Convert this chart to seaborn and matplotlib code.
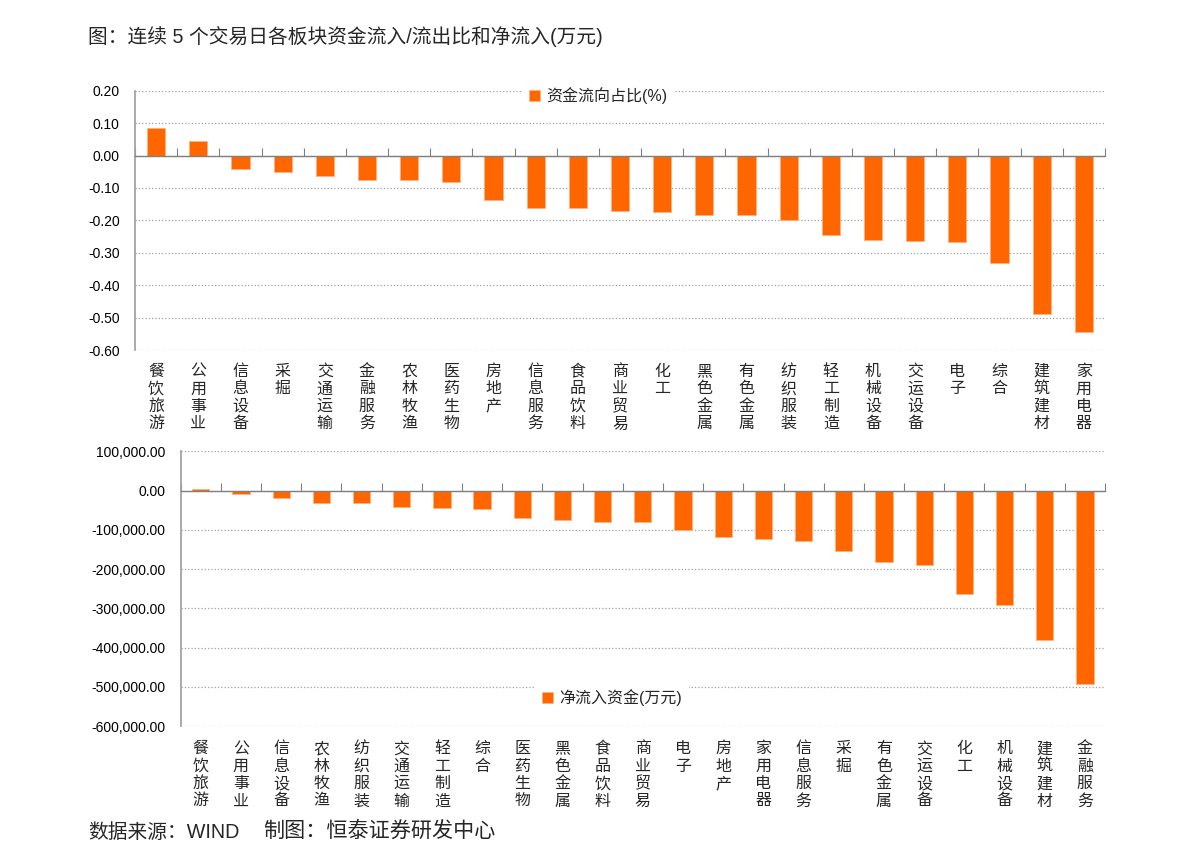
import numpy as np
import pandas as pd
import seaborn as sns
import matplotlib.pyplot as plt
from matplotlib.ticker import FuncFormatter

# 资金流向占比(%) —— 按占比从高到低
ratio_sectors = ['餐饮旅游', '公用事业', '信息设备', '采掘', '交通运输', '金融服务', '农林牧渔',
                 '医药生物', '房地产', '信息服务', '食品饮料', '商业贸易', '化工', '黑色金属',
                 '有色金属', '纺织服装', '轻工制造', '机械设备', '交运设备', '电子', '综合',
                 '建筑建材', '家用电器']
ratio_values = [0.085, 0.046, -0.043, -0.051, -0.062, -0.075, -0.077,
                -0.083, -0.137, -0.162, -0.162, -0.171, -0.173, -0.183,
                -0.185, -0.200, -0.246, -0.260, -0.263, -0.268, -0.331,
                -0.490, -0.543]

# 净流入资金(万元)
net_sectors = ['餐饮旅游', '公用事业', '信息设备', '农林牧渔', '纺织服装', '交通运输', '轻工制造',
               '综合', '医药生物', '黑色金属', '食品饮料', '商业贸易', '电子', '房地产',
               '家用电器', '信息服务', '采掘', '有色金属', '交运设备', '化工', '机械设备',
               '建筑建材', '金融服务']
net_values = [4000, -7600, -19500, -32300, -32300, -42500, -45000,
              -46700, -68800, -73900, -79500, -79900, -101700, -117800,
              -122900, -129700, -153400, -183100, -189800, -262700, -292400,
              -379700, -493200]

ratio_ticks = [-0.6, -0.5, -0.4, -0.3, -0.2, -0.1, 0.0, 0.1, 0.2]
net_ticks = [-600000, -500000, -400000, -300000, -200000, -100000, 0, 100000]

title = '图：连续 5 个交易日各板块资金流入/流出比和净流入(万元)'
source_left = '数据来源：WIND'
source_right = '制图：恒泰证券研发中心'

BAR = '#FF6600'

sns.set_theme(style='white')
plt.rcParams['font.family'] = ['Liberation Sans', 'Noto Sans CJK SC']
plt.rcParams['axes.unicode_minus'] = False


def draw_panel(ax, cats, vals, ticks, fmt, legend_label, legend_xy, ypad, xpad):
    df = pd.DataFrame({'sector': cats, 'value': vals})
    sns.barplot(data=df, x='sector', y='value', color=BAR, saturation=1,
                width=0.43, edgecolor='#ffb27f', linewidth=0.6,
                label=legend_label, ax=ax)
    n = len(cats)
    ax.set_xlim(-0.5, n - 0.5)
    ax.set_ylim(ticks[0], ticks[-1])
    ax.set_yticks(ticks)
    ax.yaxis.set_major_formatter(FuncFormatter(fmt))
    ax.tick_params(axis='y', length=0, pad=ypad, labelsize=10, labelcolor='black')
    ax.grid(axis='y', color='#a0a0a0', linestyle=':', linewidth=0.9)
    ax.set_axisbelow(True)

    # category axis line sits at zero with boundary ticks pointing up
    ax.spines['bottom'].set_position(('data', 0))
    ax.spines['bottom'].set_color('#808080')
    ax.spines['bottom'].set_linewidth(1.0)
    ax.spines['bottom'].set_zorder(3)
    ax.spines['left'].set_color('#a0a0a0')
    ax.spines['top'].set_visible(False)
    ax.spines['right'].set_visible(False)
    ax.set_xticks(range(n))
    ax.set_xticks(np.arange(-0.5, n, 1), minor=True)
    ax.tick_params(axis='x', which='major', length=0, labelbottom=False)
    ax.tick_params(axis='x', which='minor', direction='in', length=6,
                   color='#808080', width=0.8, bottom=True)
    ax.set_xlabel('')
    ax.set_ylabel('')

    # sector names stacked vertically at the bottom of the panel
    sec = ax.secondary_xaxis('bottom')
    sec.set_xticks(range(n), labels=['\n'.join(c) for c in cats])
    sec.tick_params(length=0, pad=xpad)
    sec.spines['bottom'].set_visible(False)
    for lab in sec.get_xticklabels():
        lab.set_fontsize(11.5)
        lab.set_linespacing(1.2)
        lab.set_verticalalignment('top')

    leg = ax.legend(loc='center', bbox_to_anchor=legend_xy,
                    bbox_transform=ax.figure.transFigure,
                    frameon=True, facecolor='white', edgecolor='none', framealpha=1,
                    fontsize=11.5, handlelength=0.7, handleheight=0.7,
                    handletextpad=0.4, borderpad=0.4)
    leg.set_zorder(10)


fig = plt.figure(figsize=(11.91, 8.63), dpi=100)
ax1 = fig.add_axes([135 / 1191, 1 - 350 / 863, 970 / 1191, 259.3 / 863])
ax2 = fig.add_axes([180.7 / 1191, 1 - 726 / 863, 924.3 / 1191, 274.7 / 863])

draw_panel(ax1, ratio_sectors, ratio_values, ratio_ticks,
           lambda v, p: f'{round(v, 2) + 0.0:.2f}',
           '资金流向占比(%)', (598 / 1191, 1 - 95.7 / 863), 11, 10)
draw_panel(ax2, net_sectors, net_values, net_ticks,
           lambda v, p: f'{v:,.2f}',
           '净流入资金(万元)', (612 / 1191, 1 - 697.7 / 863), 11, 11)

fig.text(88 / 1191, 1 - 37 / 863, title, fontsize=14.2, va='center', ha='left')
fig.text(88 / 1191, 1 - 832 / 863, source_left, fontsize=14.2, va='center', ha='left')
fig.text(263 / 1191, 1 - 832 / 863, source_right, fontsize=15.2, va='center', ha='left')

fig.savefig('out.png', dpi=100)
